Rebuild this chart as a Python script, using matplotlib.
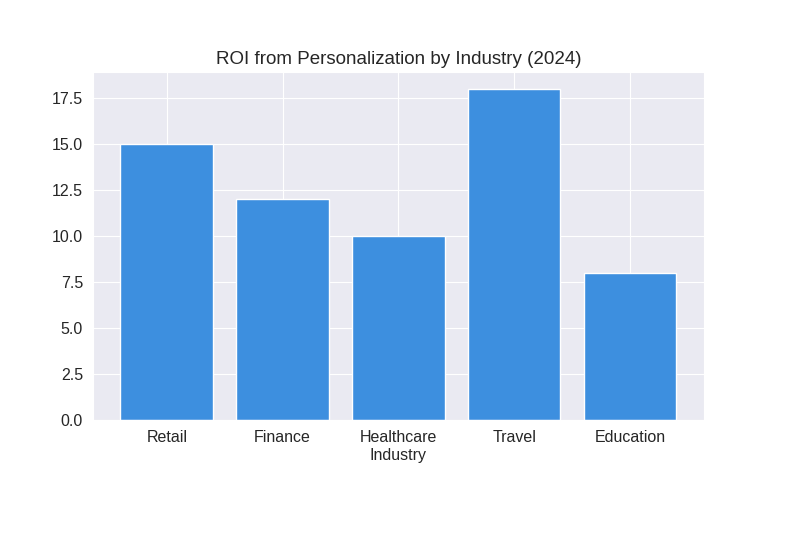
import matplotlib
matplotlib.use("Agg")
import matplotlib.pyplot as plt
import seaborn as sns

industries = ["Retail", "Finance", "Healthcare", "Travel", "Education"]
roi = [15, 12, 10, 18, 8]

sns.set_style("darkgrid")
plt.rcParams['font.family'] = ['Liberation Sans', 'DejaVu Sans']

fig = plt.figure(figsize=(7.92, 5.58), dpi=100)
ax = fig.add_axes([0.117, 0.247, 0.772, 0.624])
ax.bar(industries, roi, color="#3d8fdf", width=0.8)
ax.set_title("ROI from Personalization by Industry (2024)", fontsize=13.5, color="#262626")
ax.set_xlabel("Industry", fontsize=11.5, color="#262626", labelpad=2)
ax.tick_params(labelsize=11.5, colors="#262626")
fig.savefig("out.png", dpi=100)
